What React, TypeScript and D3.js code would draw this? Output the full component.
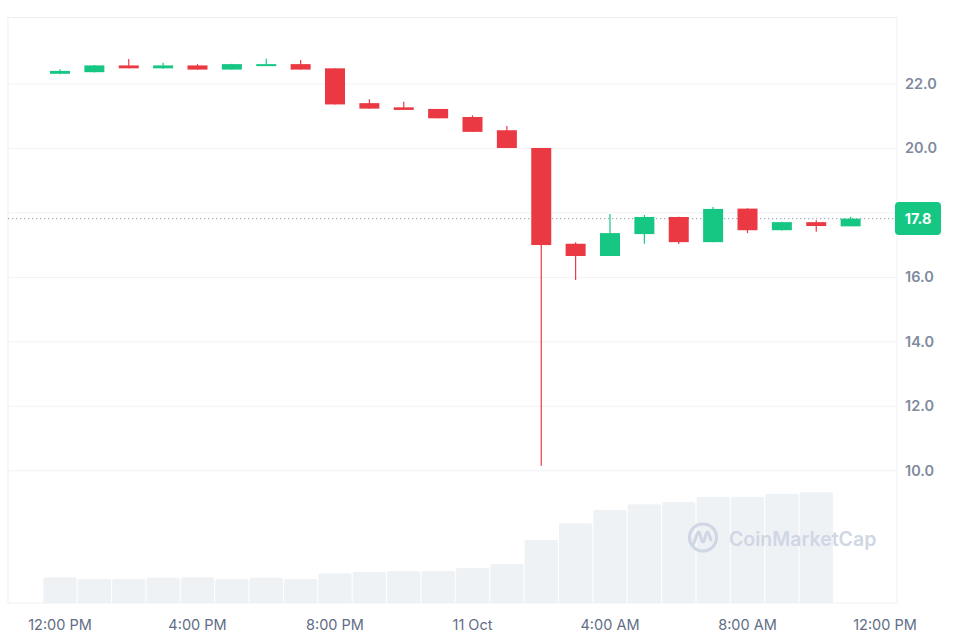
import React from "react";
import * as d3 from "d3";

const times = [
  "2025-10-10T12:00", "2025-10-10T13:00", "2025-10-10T14:00", "2025-10-10T15:00",
  "2025-10-10T16:00", "2025-10-10T17:00", "2025-10-10T18:00", "2025-10-10T19:00",
  "2025-10-10T20:00", "2025-10-10T21:00", "2025-10-10T22:00", "2025-10-10T23:00",
  "2025-10-11T00:00", "2025-10-11T01:00", "2025-10-11T02:00", "2025-10-11T03:00",
  "2025-10-11T04:00", "2025-10-11T05:00", "2025-10-11T06:00", "2025-10-11T07:00",
  "2025-10-11T08:00", "2025-10-11T09:00", "2025-10-11T10:00", "2025-10-11T11:00",
];
const opens = [22.31, 22.36, 22.57, 22.48, 22.57, 22.44, 22.56, 22.61, 22.48, 21.40, 21.27, 21.22, 20.97, 20.56, 20.01, 17.04, 16.66, 17.34, 17.87, 17.09, 18.13, 17.46, 17.71, 17.58];
const highs = [22.45, 22.58, 22.77, 22.65, 22.61, 22.62, 22.78, 22.74, 22.48, 21.52, 21.44, 21.22, 21.02, 20.69, 20.01, 17.09, 17.96, 17.93, 17.88, 18.18, 18.14, 17.72, 17.77, 17.88];
const lows = [22.30, 22.35, 22.48, 22.47, 22.44, 22.44, 22.56, 22.44, 21.36, 21.23, 21.19, 20.93, 20.51, 20.01, 10.16, 15.92, 16.66, 17.04, 17.03, 17.09, 17.37, 17.45, 17.41, 17.58];
const closes = [22.40, 22.57, 22.48, 22.57, 22.44, 22.61, 22.61, 22.44, 21.36, 21.23, 21.19, 20.93, 20.51, 20.01, 17.00, 16.66, 17.37, 17.87, 17.09, 18.12, 17.46, 17.71, 17.59, 17.82];
// volume (millions USD), one per hour except the last, still-open candle
const volumes = [257, 240, 240, 253, 257, 240, 253, 240, 297, 310, 320, 320, 350, 390, 630, 797, 930, 987, 1010, 1063, 1063, 1093, 1107];
const priceTicks = [10, 12, 14, 16, 18, 20, 22];
const timeTicks = ["2025-10-10T12:00", "2025-10-10T16:00", "2025-10-10T20:00", "2025-10-11T00:00", "2025-10-11T04:00", "2025-10-11T08:00", "2025-10-11T12:00"];

const W = 971;
const H = 633;
const plotL = 8;
const plotR = 897;
const plotT = 17.5;
const plotB = 603;
const volTop = 471;

const GREEN = "#16C784";
const RED = "#EA3943";
const FONT = "Inter, 'Noto Sans', sans-serif";

export default function App() {
  const parse = (s: string) => new Date(s);
  const x = d3
    .scaleTime()
    .domain([parse("2025-10-10T12:00"), parse("2025-10-11T12:00")])
    .range([60, 885]);
  const y = d3.scaleLinear().domain([10, 24]).range([470.8, 19.3]);
  const vy = d3.scaleLinear().domain([0, 1320]).range([plotB, volTop]);
  const step = x(parse(times[1])) - x(parse(times[0]));
  const bodyW = 20;

  const fmtTick = (d: Date) =>
    d.getHours() === 0 ? d3.timeFormat("%-d %b")(d) : d3.timeFormat("%-I:%M %p")(d);

  const last = closes[closes.length - 1];
  const lastY = y(last);

  return (
    <div style={{ position: "absolute", left: 0, top: 0 }}>
      <svg width={W} height={H} style={{ display: "block", fontFamily: FONT }}>
        <rect x={0} y={0} width={W} height={H} fill="#fff" />
        {/* gridlines */}
        {priceTicks.map((t) => (
          <line key={"g" + t} x1={plotL} x2={plotR} y1={y(t)} y2={y(t)} stroke="#F1F2F4" strokeWidth={1} />
        ))}
        {/* frame */}
        <rect x={plotL} y={plotT} width={plotR - plotL} height={plotB - plotT} fill="none" stroke="#EEF0F3" strokeWidth={1} />

        {/* volume bars */}
        {volumes.map((v, i) => {
          const cx = x(parse(times[i]));
          const w = step - 1;
          const top = vy(v);
          const h = plotB - top;
          const r = 2;
          const x0 = cx - w / 2;
          const p = `M${x0},${plotB} V${top + r} Q${x0},${top} ${x0 + r},${top} H${x0 + w - r} Q${x0 + w},${top} ${x0 + w},${top + r} V${plotB} Z`;
          return <path key={"v" + i} d={h > 0 ? p : ""} fill="#EFF2F5" />;
        })}

        {/* watermark */}
        <g opacity={1}>
          <circle cx={703} cy={537.5} r={13.5} fill="none" stroke="#CFD6E4" strokeWidth={3.2} />
          <path
            d="M693.5,544 L697.5,533 Q698.5,531 699.5,533 L702,541 Q703,543 704,541 L706.5,533 Q707.5,531 708.5,533 L711,540"
            fill="none"
            stroke="#CFD6E4"
            strokeWidth={3}
            strokeLinecap="round"
            strokeLinejoin="round"
          />
          <text x={729} y={545.5} fontSize={19.5} fontWeight={600} fill="#CFD6E4" style={{ fontFamily: FONT }}>
            CoinMarketCap
          </text>
        </g>

        {/* dotted last price line */}
        <line x1={plotL} x2={plotR} y1={lastY} y2={lastY} stroke="#A6AEBB" strokeWidth={1.2} strokeDasharray="1.3 2.7" />

        {/* candles */}
        {times.map((t, i) => {
          const cx = x(parse(t));
          const up = closes[i] >= opens[i];
          const col = up ? GREEN : RED;
          const top = y(Math.max(opens[i], closes[i]));
          const bot = y(Math.min(opens[i], closes[i]));
          const bh = Math.max(bot - top, 2);
          return (
            <g key={"c" + i}>
              <line x1={cx} x2={cx} y1={y(highs[i])} y2={y(lows[i])} stroke={col} strokeWidth={1.2} />
              <rect x={cx - bodyW / 2} y={top} width={bodyW} height={bh} fill={col} />
            </g>
          );
        })}

        {/* y axis labels */}
        {priceTicks
          .filter((t) => Math.abs(y(t) - lastY) > 18)
          .map((t) => (
            <text key={"yl" + t} x={905} y={y(t)} dy="0.35em" fontSize={14.5} fontWeight={600} fill="#808A9D">
              {d3.format(".1f")(t)}
            </text>
          ))}

        {/* last price badge */}
        <rect x={895} y={lastY - 16.5} width={46} height={33} rx={4} fill={GREEN} />
        <text x={918} y={lastY} dy="0.35em" textAnchor="middle" fontSize={14.5} fontWeight={700} fill="#fff">
          {d3.format(".1f")(last)}
        </text>

        {/* x axis labels */}
        {timeTicks.map((s) => {
          const d = parse(s);
          return (
            <text key={"xl" + s} x={x(d)} y={630} textAnchor="middle" fontSize={14.5} fill="#616E85">
              {fmtTick(d)}
            </text>
          );
        })}
      </svg>
    </div>
  );
}
